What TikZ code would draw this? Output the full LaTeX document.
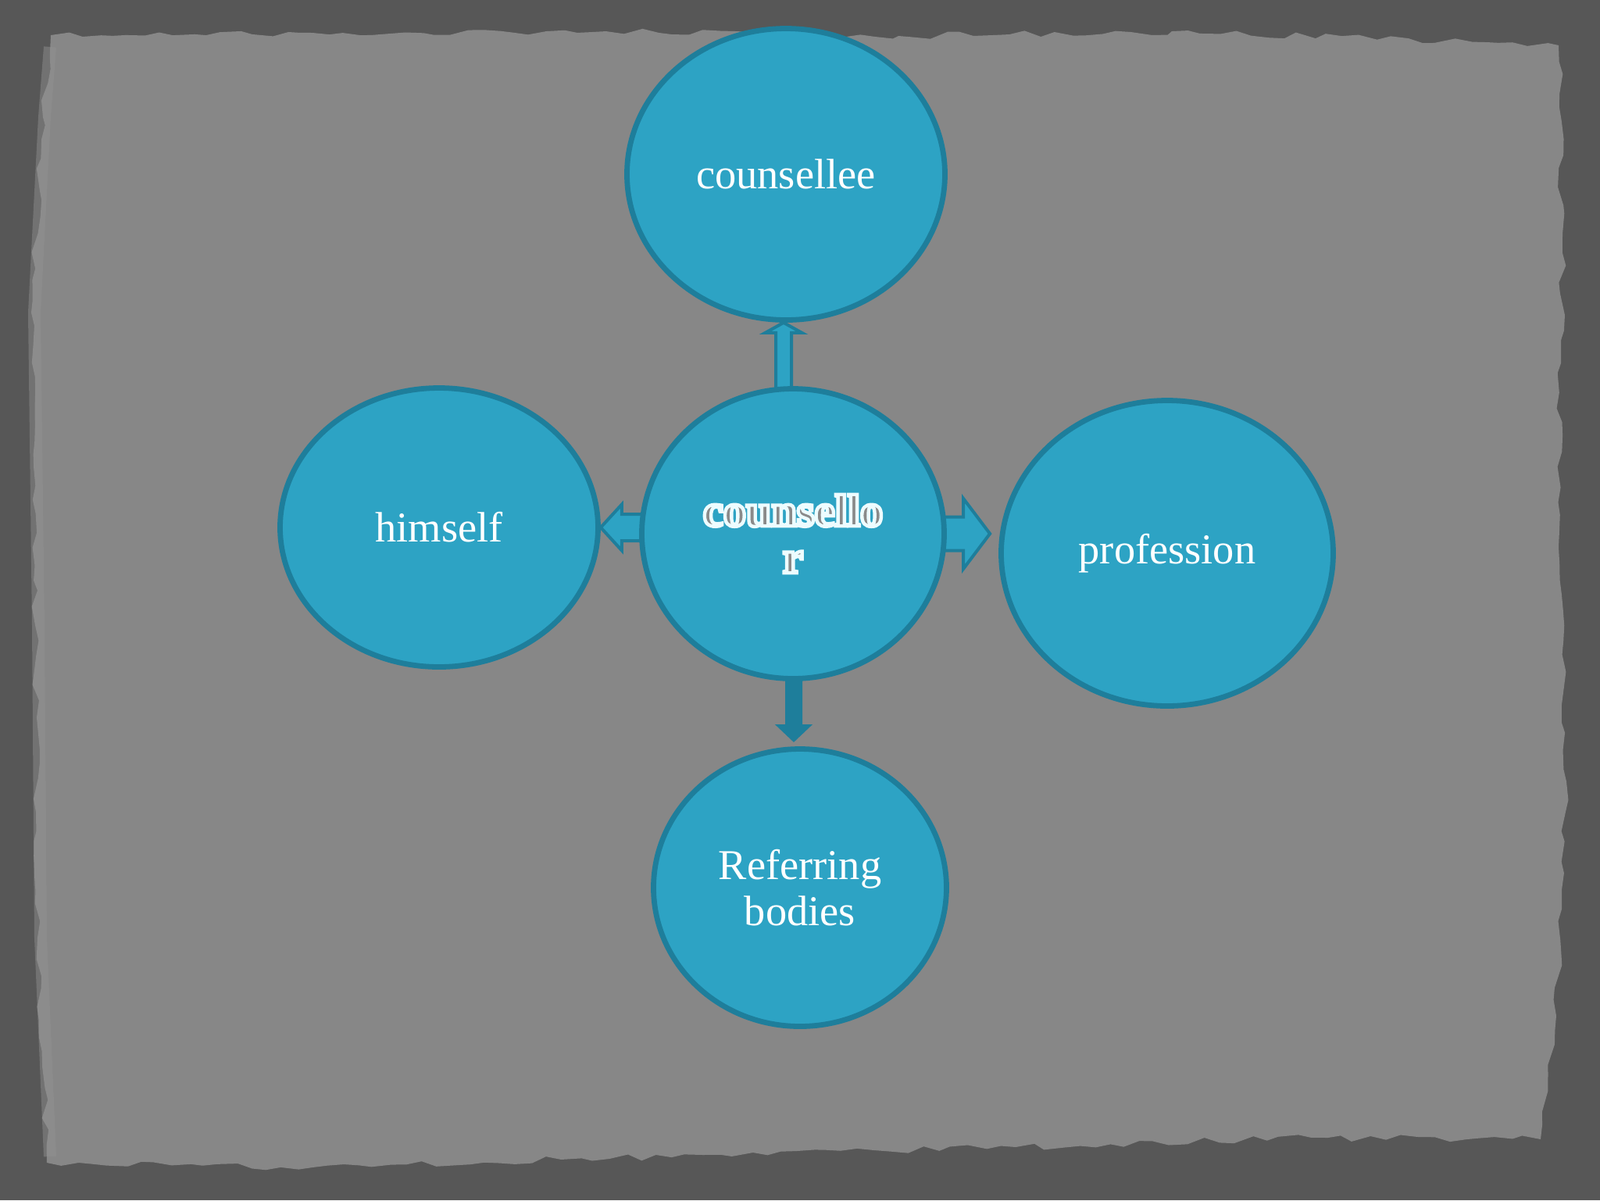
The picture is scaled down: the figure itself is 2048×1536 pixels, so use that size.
\documentclass[tikz,border=0pt]{standalone}
\usepackage{fontspec}
\setmainfont{Liberation Serif}
\usetikzlibrary{calc,shapes.geometric,decorations.pathmorphing}
\definecolor{frame}{HTML}{575757}
\definecolor{paper}{HTML}{878787}
\definecolor{paperlight}{HTML}{939393}
\definecolor{cfill}{HTML}{2DA3C4}
\definecolor{cline}{HTML}{1E7E9B}
\definecolor{ctext}{HTML}{8A8A8A}
\pgfdeclarelayer{bg}
\pgfdeclarelayer{arr}
\pgfsetlayers{bg,arr,main}
\newcommand\outlinetext[1]{{\color{ctext}\special{pdf:literal direct 2 Tr 1.1 w 0.93 0.99 1 RG}#1\special{pdf:literal direct 0 Tr}}}
\newcommand\blockarr[6]{%
  \coordinate (bh) at ($(#3)!#6!(#2)$);
  \filldraw[#1] ($(#2)!#4!90:(#3)$) -- ($(bh)!#4!-90:(#2)$) -- ($(bh)!#5!-90:(#2)$) -- (#3)
    -- ($(bh)!#5!90:(#2)$) -- ($(bh)!#4!90:(#2)$) -- ($(#2)!#4!-90:(#3)$) -- cycle;}
\tikzset{
  bubble/.style={ellipse, draw=cline, line width=1.7pt, fill=cfill, inner sep=0pt,
    text=white, align=center, font=\fontsize{13.6}{14.8}\selectfont},
  lightarr/.style={fill=cfill, draw=cline, line width=1pt, line join=miter},
  darkarr/.style={fill=cline, draw=cline, line width=1pt, line join=miter}
}
\begin{document}
\begin{tikzpicture}[x=0.25pt, y=-0.25pt]
\useasboundingbox (0,0) rectangle (2048,1536);
\begin{pgfonlayer}{bg}
\fill[frame] (0,0) rectangle (2048,1536);
\fill[paper, decorate, decoration={random steps, segment length=5pt, amplitude=1.2pt}]
  (65,45) -- (400,42) -- (1000,40) -- (1150,46) -- (1500,40) -- (1995,58) -- (2000,300)
  -- (1995,700) -- (2005,1000) -- (1992,1300) -- (1972,1458) -- (1700,1456) -- (1300,1468)
  -- (900,1478) -- (400,1494) -- (60,1488) -- (48,1200) -- (45,800) -- (40,400) -- (55,150) -- cycle;
\draw[paperlight, line width=4pt, opacity=0.45] (64,60) -- (57,150) -- (44,400) -- (49,800) -- (52,1200) -- (64,1480);
\end{pgfonlayer}

\node[bubble, minimum width=101.75pt, minimum height=93.25pt] (t) at (1006,223) {counsellee};
\node[bubble, minimum width=96.75pt, minimum height=92.75pt,
  font=\fontsize{14.6}{15}\selectfont\bfseries] (c) at (1015,683)
  {\outlinetext{counsello}\\\outlinetext{r}};
\node[bubble, minimum width=101.75pt, minimum height=89.25pt] (h) at (562,675) {himself};
\node[bubble, minimum width=106.25pt, minimum height=97.75pt] (p) at (1494,708) {profession};
\node[bubble, minimum width=93.75pt, minimum height=88.75pt] (r) at (1024,1136) {Referring\\bodies};

\coordinate (ua) at ($(c.north)+(-12,8)$);
\coordinate (ub) at (ua |- t.south);
\coordinate (la) at ($(c.west |- h.east)+(6,0)$);
\coordinate (lb) at (h.east);
\coordinate (ra) at ($(c.east)+(-6,0)$);
\coordinate (rb) at ($(p.west |- c.east)+(-11,0)$);
\coordinate (da) at ($(c.south)+(1,-6)$);
\coordinate (db) at ($(da |- r.north)+(0,-8)$);

\begin{pgfonlayer}{arr}
\blockarr{lightarr}{ua}{ub}{2.5pt}{5.875pt}{3.25pt}
\blockarr{lightarr}{la}{lb}{4.25pt}{7.375pt}{6.75pt}
\blockarr{lightarr}{ra}{rb}{5.375pt}{11.25pt}{8.5pt}
\blockarr{darkarr}{da}{db}{2.25pt}{4.75pt}{4.5pt}
\end{pgfonlayer}
\end{tikzpicture}
\end{document}
